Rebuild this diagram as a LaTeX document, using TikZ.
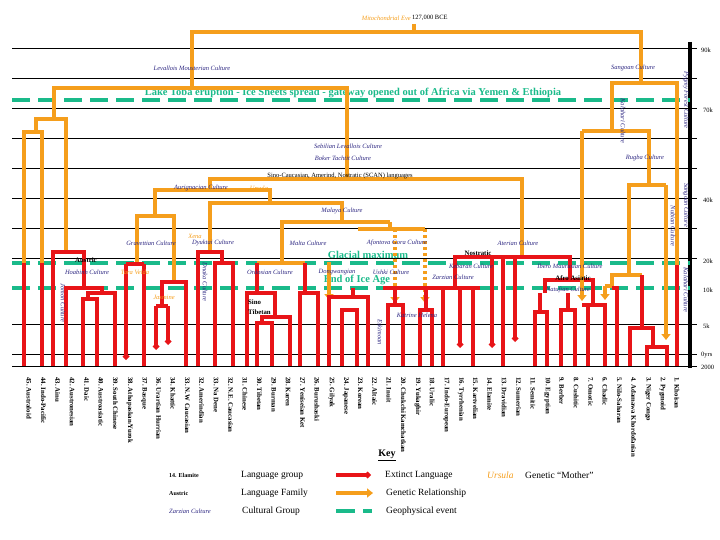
\documentclass[tikz,border=0pt]{standalone}
\usepackage{fontspec}
\setmainfont{Liberation Serif}
\usetikzlibrary{arrows.meta}
\definecolor{og}{RGB}{245,158,28}
\definecolor{rd}{RGB}{232,20,24}
\definecolor{tl}{RGB}{26,186,138}
\definecolor{cb}{RGB}{46,40,130}
\tikzset{
 ogl/.style={draw=og,line width=3.6pt,line join=miter},
 rdl/.style={draw=rd,line width=3.6pt,line join=miter},
 ext/.style={rdl,-{Diamond[length=7pt,width=7pt]}},
 arr/.style={ogl,-{Triangle[length=6pt,width=9pt]}},
 grid/.style={draw=black,line width=0.9pt},
 tdash/.style={draw=tl,line width=4.5pt,dash pattern=on 18pt off 8pt},
 cult/.style={text=cb,font=\fontsize{6.5}{7}\selectfont\itshape,inner sep=0},
 vcult/.style={cult,rotate=-90},
 mom/.style={text=og,font=\fontsize{6.5}{7}\selectfont\itshape,inner sep=0},
 fam/.style={font=\fontsize{6.8}{7}\selectfont\bfseries,inner sep=0},
 leaf/.style={rotate=-90,anchor=west,font=\fontsize{6.8}{7}\selectfont\bfseries,inner sep=0},
 axl/.style={font=\fontsize{6.5}{7}\selectfont,inner sep=0,anchor=west},
 keyt/.style={font=\fontsize{9.5}{10}\selectfont,inner sep=0,anchor=west},
}
\begin{document}
\begin{tikzpicture}[x=1pt,y=-1pt]
\useasboundingbox (0,0) rectangle (720,540);
% grid lines
\foreach \y in {48,78,108,138,168,198,228,258,324,354,366}
  \draw[grid] (12,\y) -- (697,\y);
% axis
\draw[draw=black,line width=4pt] (690,42) -- (690,368);
\node[axl] at (701,50) {90k};
\node[axl] at (703,110) {70k};
\node[axl] at (703,200) {40k};
\node[axl] at (703,261) {20k};
\node[axl] at (703,290) {10k};
\node[axl] at (703,326) {5k};
\node[axl] at (701,355) {0yrs};
\node[axl] at (701,367) {2000};
% teal geophysical events
\draw[tdash] (12,100) -- (690,100);
\draw[tdash] (12,263) -- (690,263);
\draw[tdash] (12,288) -- (690,288);
\node[text=tl,font=\fontsize{10.5}{11}\selectfont\bfseries,inner sep=0] (toba) at (353,93) {Lake Toba eruption - Ice Sheets spread - gateway opened out of Africa via Yemen \& Ethiopia};
\node[text=tl,font=\fontsize{10.5}{11}\selectfont\bfseries,inner sep=0] (glac) at (368,255) {Glacial maximum};
\node[text=tl,font=\fontsize{10.5}{11}\selectfont\bfseries,inner sep=0] (eoia) at (357,280) {End of Ice Age};
% title
\node[inner sep=0,anchor=east] (eve) at (411,18) {\color{og}\fontsize{6.5}{7}\selectfont\itshape Mitochondrial Eve};
\node[inner sep=0,anchor=west,font=\fontsize{6.5}{7}\selectfont] (bce) at (412,18) {127,000 BCE};
% ---------------- orange top
\draw[ogl] (414,24) -- (414,32);
\draw[ogl] (192,88) -- (192,32) -- (641,32) -- (641,83);
\draw[ogl] (54,119) -- (54,88) -- (347,88) -- (347,179);
\draw[ogl] (36,132) -- (36,119) -- (66,119) -- (66,252);
\draw[ogl] (24,263) -- (24,132) -- (42,132) -- (42,263);
\draw[rdl] (24,263) -- (24,366);
\draw[rdl] (42,263) -- (42,366);
% Austric
\draw[rdl] (53,366) -- (53,252) -- (84,252) -- (84,288);
\draw[rdl] (66,366) -- (66,288) -- (102,288) -- (102,293);
\draw[rdl] (88,299) -- (88,293) -- (115,293) -- (115,366);
\draw[rdl] (83,366) -- (83,299) -- (97,299) -- (97,366);
% SCAN
\draw[ogl] (210,190) -- (210,179) -- (522,179) -- (522,257);
\draw[ogl] (155,216) -- (155,190) -- (270,190) -- (270,203);
\draw[ogl] (137,264) -- (137,216) -- (174,216) -- (174,282);
\draw[ogl] (210,252) -- (210,203) -- (342,203) -- (342,222);
% Tara Velda
\draw[rdl] (126,264) -- (144,264);
\draw[ext] (126,264) -- (126,360);
\draw[rdl] (144,264) -- (144,366);
% Jasmine
\draw[rdl] (162,306) -- (162,282) -- (186,282) -- (186,366);
\draw[rdl] (156,306) -- (168,306);
\draw[ext] (156,306) -- (156,350);
\draw[ext] (168,306) -- (168,345);
% Xena
\draw[rdl] (198,366) -- (198,252) -- (222,252) -- (222,263);
\draw[rdl] (215,366) -- (215,263) -- (233,263) -- (233,366);
% Malta
\draw[ogl] (282,263) -- (282,222) -- (390,222);
\draw[ogl] (257,263) -- (305,263);
\draw[rdl] (257,263) -- (257,293);
\draw[rdl] (247,366) -- (247,293) -- (275,293) -- (275,317);
\draw[rdl] (290,366) -- (290,317) -- (262,317) -- (262,323);
\draw[rdl] (257,366) -- (257,323) -- (272,323) -- (272,366);
\draw[rdl] (305,263) -- (305,293);
\draw[rdl] (300,366) -- (300,293) -- (318,293) -- (318,366);
% Afontova Gora
\draw[ogl] (390,222) -- (390,229);
\draw[ogl] (358,229) -- (425,229);
\draw[arr] (329,262) -- (329,300);
\draw[arr,dashed] (395,229) -- (395,303);
\draw[arr,dashed] (425,229) -- (425,303);
% north-eurasian red
\draw[rdl] (353,288) -- (353,297);
\draw[rdl] (329,366) -- (329,297) -- (368,297) -- (368,366);
\draw[rdl] (342,366) -- (342,310) -- (357,310) -- (357,366);
\draw[rdl] (383,288) -- (480,288);
\draw[rdl] (388,366) -- (388,305) -- (403,305) -- (403,366);
\draw[rdl] (395,288) -- (395,305);
\draw[rdl] (420,366) -- (420,310) -- (432,310) -- (432,366);
\draw[rdl] (426,288) -- (426,310);
\draw[rdl] (443,366) -- (443,288);
\draw[ext] (460,288) -- (460,348);
\draw[rdl] (473,366) -- (473,288);
% Nostratic
\draw[rdl] (455,288) -- (455,257) -- (570,257) -- (570,280);
\draw[ext] (492,257) -- (492,348);
\draw[rdl] (503,257) -- (503,366);
\draw[ext] (515,257) -- (515,342);
% Afro-Asiatic
\draw[rdl] (545,293) -- (545,280) -- (593,280) -- (593,305);
\draw[rdl] (535,366) -- (535,312) -- (547,312) -- (547,366);
\draw[rdl] (540,293) -- (540,312);
\draw[rdl] (561,366) -- (561,310) -- (575,310) -- (575,366);
\draw[rdl] (568,293) -- (568,310);
\draw[rdl] (582,305) -- (605,305) -- (605,366);
\draw[rdl] (588,305) -- (588,366);
% African orange
\draw[ogl] (612,131) -- (612,83) -- (677,83) -- (677,265);
\draw[rdl] (677,265) -- (677,366);
\draw[ogl] (582,131) -- (649,131) -- (649,185);
\draw[arr] (582,131) -- (582,301);
\draw[ogl] (629,275) -- (629,185) -- (666,185);
\draw[arr] (666,185) -- (666,340);
\draw[ogl] (642,275) -- (612,275) -- (612,286) -- (605,286);
\draw[arr] (605,286) -- (605,300);
\draw[rdl] (612,288) -- (617,288) -- (617,366);
\draw[rdl] (642,275) -- (642,328);
\draw[rdl] (630,366) -- (630,328) -- (653,328) -- (653,347);
\draw[rdl] (647,366) -- (647,347) -- (667,347) -- (667,366);
% -------- texts
\node[cult] at (192,68) {Levallois Mousterian Culture};
\node[cult] at (633,68) {Sangoan Culture};
\node[cult] at (348,146) {Sebilian Levallois Culture};
\node[cult] at (343,158) {Boker Tachtit Culture};
\node[cult] at (645,158) {Rugba Culture};
\node[inner sep=0,font=\fontsize{6.5}{7}\selectfont] at (340,176) {Sino-Caucasian, Amerind, Nostratic (SCAN) languages};
\node[cult] at (201,188) {Aurignacian Culture};
\node[mom] at (259,188) {Ursula};
\node[cult] at (342,211) {Malaya Culture};
\node[mom] at (195,236) {Xena};
\node[cult] at (151,243) {Gravettian Culture};
\node[cult] at (213,243) {Dyuktai Culture};
\node[cult] at (308,243) {Malta Culture};
\node[cult] at (397,243) {Afontova Gora Culture};
\node[cult] at (518,243) {Aterian Culture};
\node[fam] at (86,260) {Austric};
\node[fam] at (478,253) {Nostratic};
\node[cult] at (471,266) {Kebaran Culture};
\node[cult] at (570,266) {Ibero Maurusian Culture};
\node[cult] at (87,272) {Hoabinh Culture};
\node[mom] at (135,272) {Tara Velda};
\node[cult] at (270,272) {Ordosian Culture};
\node[cult] at (337,272) {Dongwangian};
\node[cult] at (391,272) {Ushki Culture};
\node[cult] at (453,277) {Zarzian Culture};
\node[fam] at (573,278) {Afro Asiatic};
\node[cult] at (568,290) {Natufian Culture};
\node[mom] at (164,297) {Jasmine};
\node[fam,anchor=west] at (248,302) {Sino};
\node[fam,anchor=west] at (248,312) {Tibetan};
\node[cult] at (417,315) {Katrine Helena};
\node[vcult] at (63,303) {Jomon Culture};
\node[vcult] at (205,282) {Dnaka Culture};
\node[vcult] at (380,332) {Eskimoan};
\node[vcult] at (623,121) {Kalahari Culture};
\node[vcult] at (686,100) {Pygmy Forest Culture};
\node[vcult] at (686,205) {Sangoan Culture};
\node[vcult] at (673,226) {Nubian Culture};
\node[vcult] at (686,290) {Kalahari Culture};
% leaf labels
\foreach \t [count=\k from 0] in {45. Australoid,44. Indo-Pacific,43. Ainu,42. Austronesian,41. Daic,40. Austroasiatic,39. South Chinese,38. Athapaskan/Yurok,37. Basque,36. Urartian Hurrian,34. Khattic,33. N.W Caucasian,32. Amerindian,33. Na Dene,32. N.E. Caucasian,31. Chinese,30. Tibetan,29. Burman,28. Karen,27. Yeniseian Ket,26. Burushaski,25. Gilyak,24. Japanese,23. Korean,22. Altaic,21. Inuit,20. Chukchi Kamchatkan,19. Yukaghir,18. Uralic,17. Indo-European,16. Tyrrhenian,15. Kartvelian,14. Elamite,13. Dravidian,12. Sumerian,11. Semitic,10. Egyptian,9. Berber,8. Cushitic,7. Omotic,6. Chadic,5. Nilo-Saharan,4. Adamawa Khordofanian,3. Niger Congo,2. Pygmoid,1. Khoisan}
  \node[leaf] at ({29+14.4*\k},377) {\t};
% key
\node[inner sep=0,font=\fontsize{10}{11}\selectfont\bfseries] (key) at (387,455) {\underline{Key}};
\node[fam,anchor=west,font=\fontsize{6}{7}\selectfont\bfseries] at (169,475) {14. Elamite};
\node[keyt] at (241,475) {Language group};
\draw[ext] (336,475) -- (371,475);
\node[keyt] at (385,475) {Extinct Language};
\node[mom,anchor=west,font=\fontsize{9.5}{10}\selectfont\itshape] at (487,475) {Ursula};
\node[keyt] at (525,475) {Genetic “Mother”};
\node[fam,anchor=west,font=\fontsize{6}{7}\selectfont\bfseries] at (169,493) {Austric};
\node[keyt] at (241,493) {Language Family};
\draw[arr] (336,493) -- (373,493);
\node[keyt] at (386,493) {Genetic Relationship};
\node[cult,anchor=west] at (169,511) {Zarzian Culture};
\node[keyt] at (242,511) {Cultural Group};
\draw[draw=tl,line width=4.5pt] (336,511) -- (355,511) (363,511) -- (372,511);
\node[keyt] at (386,511) {Geophysical event};
\end{tikzpicture}
\end{document}
